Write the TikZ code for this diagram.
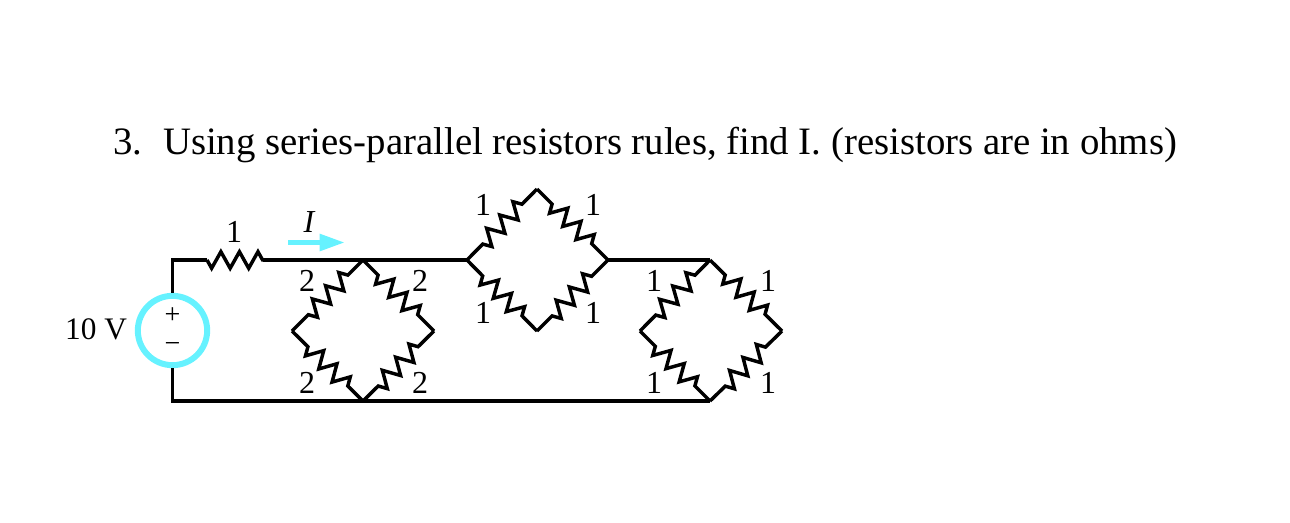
\documentclass[tikz,border=0pt]{standalone}
\usepackage{fontspec}
\setmainfont{Liberation Serif}
\usetikzlibrary{arrows.meta, decorations.pathmorphing}
\definecolor{ringc}{HTML}{66F2FF}
\tikzstyle{wire} = [line width=2.6pt, line join=miter]
\tikzstyle{lab} = [inner sep=0pt, font=\fontsize{24}{26}\selectfont]
\tikzstyle{sign} = [inner sep=0pt, font=\fontsize{21}{22}\selectfont]
\tikzset{
	res/.style={wire, decoration={zigzag, mirror, segment length=14pt, amplitude=6.2pt, pre length=16pt, post length=16pt}, decorate},
	hres/.style={wire, decoration={zigzag, mirror, segment length=13.9pt, amplitude=6.2pt}, decorate},
	ring/.style={circle, draw=ringc, line width=4.5pt, minimum size=52pt, inner sep=0pt}
}
\begin{document}
\begin{tikzpicture}[x=0.75pt, y=-0.75pt]
	\useasboundingbox (0,0) rectangle (1290,522);
	\node [inner sep=0pt, anchor=base west, font=\fontsize{29.1}{32}\selectfont] (title) at (113,154) {3.\ \ \hspace{1pt}Using series-parallel resistors rules, find I. (resistors are in ohms)};

	% main loop
	\coordinate (tl) at (172.5,260);
	\coordinate (bl) at (172.5,401);
	\coordinate (ra) at (207,260);
	\coordinate (rb) at (263,260);
	\node [ring] (src) at (172.5,330.5) {};
	% bridges
	\coordinate (at) at (363,260);
	\coordinate (al) at (292,331);
	\coordinate (ar) at (434,331);
	\coordinate (ab) at (363,401);
	\coordinate (bt) at (537,189);
	\coordinate (bll) at (467,260);
	\coordinate (brr) at (608,260);
	\coordinate (bb) at (537,331);
	\coordinate (ct) at (710,260);
	\coordinate (cl) at (640,331);
	\coordinate (cr) at (782,331);
	\coordinate (cb) at (710,401);

	\draw [wire] (src.north) -- (tl) -- (ra);
	\draw [hres] (ra) -- (rb);
	\draw [wire] (rb) -- (at) -- (bll);
	\draw [wire] (brr) -- (ct);
	\draw [wire] (src.south) -- (bl) -- (cb);

	\foreach \p/\q in {at/al, ab/ar, bt/bll, bb/brr, ct/cl, cb/cr, at/ar, ab/al, bt/brr, bb/bll, ct/cr, cb/cl}
		\draw [res] (\p) -- (\q);

	% arrow
	\coordinate (ia) at (288,242.5);
	\coordinate (ib) at (345,242.5);
	\draw [ringc, line width=4pt, -{Triangle[length=19pt, width=12pt]}] (ia) -- (ib);

	\node [lab, font=\fontsize{23.5}{26}\selectfont] (v) at (96,329) {10 V};
	\node [sign] (pl) at (172.5,316) {+};
	\node [sign] (mi) at (172.5,347) {\textminus};
	\node [lab] (r1) at (234,232) {1};
	\node [lab, font=\fontsize{24}{26}\selectfont\itshape] (il) at (309,222) {I};
	\node [lab] (a1) at (307,281) {2};
	\node [lab] (a2) at (420,281) {2};
	\node [lab] (a3) at (307,383) {2};
	\node [lab] (a4) at (420,383) {2};
	\node [lab] (b1) at (483,205) {1};
	\node [lab] (b2) at (593,205) {1};
	\node [lab] (b3) at (483,313) {1};
	\node [lab] (b4) at (593,313) {1};
	\node [lab] (c1) at (654,281) {1};
	\node [lab] (c2) at (768,281) {1};
	\node [lab] (c3) at (654,383) {1};
	\node [lab] (c4) at (768,383) {1};
\end{tikzpicture}
\end{document}
